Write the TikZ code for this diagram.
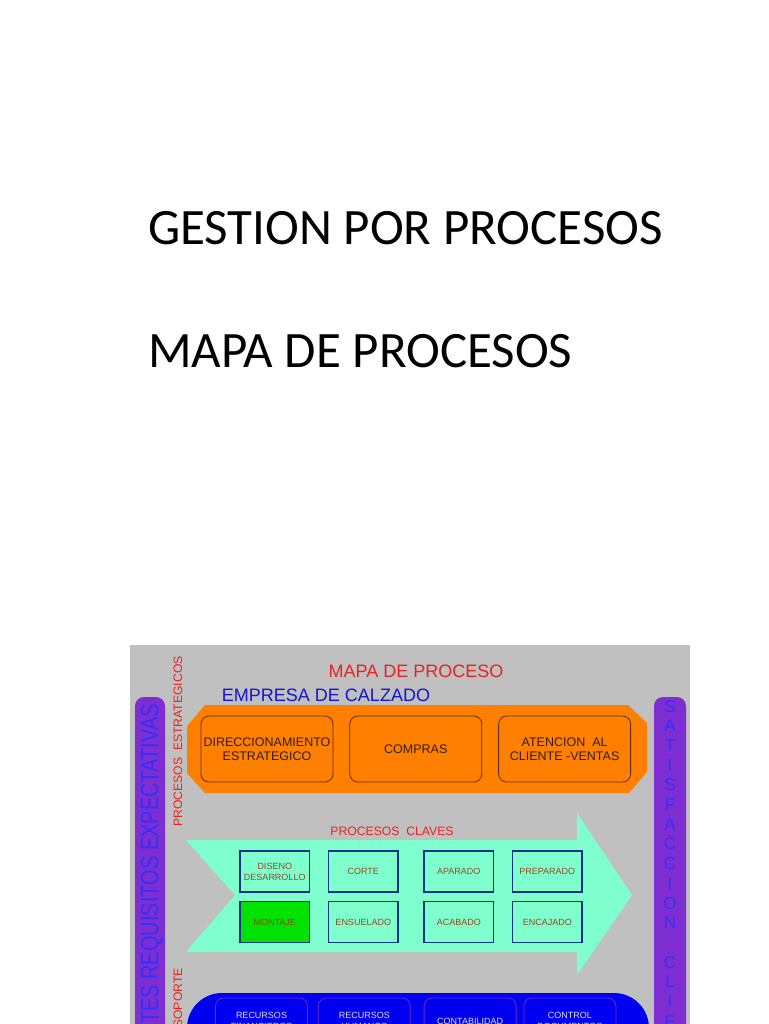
\documentclass[tikz,border=0pt]{standalone}
\usepackage{fontspec}
\setmainfont{Liberation Sans}
\newfontfamily\slidefont{Carlito}
\usetikzlibrary{positioning}
\definecolor{slidegray}{RGB}{192,192,192}
\definecolor{barpurple}{RGB}{126,46,208}
\definecolor{bartext}{RGB}{48,48,250}
\definecolor{stratorange}{RGB}{255,128,0}
\definecolor{stratline}{RGB}{95,45,10}
\definecolor{strattext}{RGB}{50,30,20}
\definecolor{keygreen}{RGB}{128,255,206}
\definecolor{keyline}{RGB}{0,50,140}
\definecolor{keytext}{RGB}{150,70,30}
\definecolor{montgreen}{RGB}{0,226,0}
\definecolor{supblue}{RGB}{0,0,240}
\definecolor{supline}{RGB}{112,40,200}
\definecolor{suptext}{RGB}{222,222,236}
\definecolor{mapred}{RGB}{230,35,35}
\definecolor{empblue}{RGB}{20,20,210}

\begin{document}
\begin{tikzpicture}[x=1pt,y=-1pt]

  \tikzset{title node/.style={inner sep=0pt, anchor=base west,
  		font=\slidefont\fontsize{51}{60}\selectfont}, }
  \tikzset{strat node/.style={rectangle, draw=stratline, fill=stratorange,
  		line width=0.8pt, rounded corners=8pt, minimum width=132pt,
  		minimum height=66pt, inner sep=0pt, align=center, text=strattext,
  		font=\fontsize{12.5}{14.5}\selectfont}, }
  \tikzset{key node/.style={rectangle, draw=keyline, fill=keygreen,
  		line width=1.5pt, minimum width=69.5pt, minimum height=41pt,
  		inner sep=0pt, align=center, text=keytext,
  		font=\fontsize{9}{11}\selectfont}, }
  \tikzset{sup node/.style={rectangle, draw=supline, fill=supblue,
  		line width=0.8pt, rounded corners=8pt, minimum width=92pt,
  		minimum height=46pt, inner sep=0pt, align=center, text=suptext,
  		font=\fontsize{9}{11.5}\selectfont}, }
  \tikzset{side label/.style={inner sep=0pt, rotate=90, anchor=east,
  		text=mapred, font=\fontsize{12.2}{14}\selectfont}, }

\useasboundingbox (0,0) rectangle (768,1024);
\clip (0,0) rectangle (768,1024);
\fill[white] (0,0) rectangle (768,1024);

%% titles
\node[title node] (t1) at (148,244) {GESTION POR PROCESOS};
\node[title node] (t2) at (148,367) {MAPA DE PROCESOS};

%% slide picture
\fill[slidegray] (130,645) rectangle (690,1040);
\fill[barpurple, rounded corners=9pt] (135,697) rectangle (165,1060);
\fill[barpurple, rounded corners=9pt] (654,697) rectangle (686,1060);
\fill[stratorange] (205,705) -- (628,705) -- (647,723) -- (647,772)
  -- (629,793) -- (205,793) -- (187,773) -- (187,726) -- cycle;
\fill[keygreen] (186,840) -- (577,840) -- (577,813) -- (632,895)
  -- (577,975) -- (577,952) -- (186,952) -- (235,895) -- cycle;
\fill[supblue, rounded corners=35pt] (187,1060) -- (187,993)
  -- (649,993) -- (649,1060) -- cycle;

\node[inner sep=0pt, text=mapred, font=\fontsize{18}{20}\selectfont]
  (map) at (416,671) {MAPA DE PROCESO};
\node[inner sep=0pt, text=empblue, font=\fontsize{18}{20}\selectfont]
  (emp) at (326,695) {EMPRESA DE CALZADO};
\node[inner sep=0pt, text=mapred, font=\fontsize{12.2}{14}\selectfont]
  (claves) at (392,831) {PROCESOS\ \ CLAVES};

\node[side label] (estr) at (178,656) {PROCESOS\ \ ESTRATEGICOS};
\node[side label] (sop) at (178,968) {PROCESOS\ \ SOPORTE};
\node[inner sep=0pt, rotate=90, anchor=east, text=bartext,
  font=\fontsize{20}{22}\selectfont] (req) at (152,704)
  {\scalebox{1}[1.26]{CLIENTES REQUISITOS EXPECTATIVAS}};
\node[inner sep=0pt, anchor=north, align=center, text=bartext,
  font=\fontsize{17}{19.7}\selectfont] (sat) at (670,700)
  {S\\A\\T\\I\\S\\F\\A\\C\\C\\I\\O\\N\\[19.7pt]C\\L\\I\\E\\N\\T\\E\\S};

%% estrategicos
\node[strat node] (dir) at (267,749) {DIRECCIONAMIENTO\\ESTRATEGICO};
\node[strat node] (comp) [right=16pt of dir] {COMPRAS};
\node[strat node] (aten) [right=16pt of comp] {ATENCION\ \ AL\\CLIENTE -VENTAS};

%% claves
\node[key node] (dis) at (274.75,871.5) {DISENO\\DESARROLLO};
\node[key node] (cor) [right=17.5pt of dis] {CORTE};
\node[key node] (apa) [right=24.5pt of cor] {APARADO};
\node[key node] (pre) [right=17.5pt of apa] {PREPARADO};
\node[key node, fill=montgreen] (mon) [below=8pt of dis] {MONTAJE};
\node[key node] (ens) [below=8pt of cor] {ENSUELADO};
\node[key node] (aca) [below=8pt of apa] {ACABADO};
\node[key node] (enc) [below=8pt of pre] {ENCAJADO};

%% soporte
\node[sup node] (fin) at (261.5,1021) {RECURSOS\\FINANCIEROS};
\node[sup node] (hum) [right=10pt of fin] {RECURSOS\\HUMANOS};
\node[sup node] (cont) [right=13pt of hum] {CONTABILIDAD};
\node[sup node] (doc) [right=7pt of cont] {CONTROL\\DOCUMENTOS};
%%
\end{tikzpicture}
\end{document}
